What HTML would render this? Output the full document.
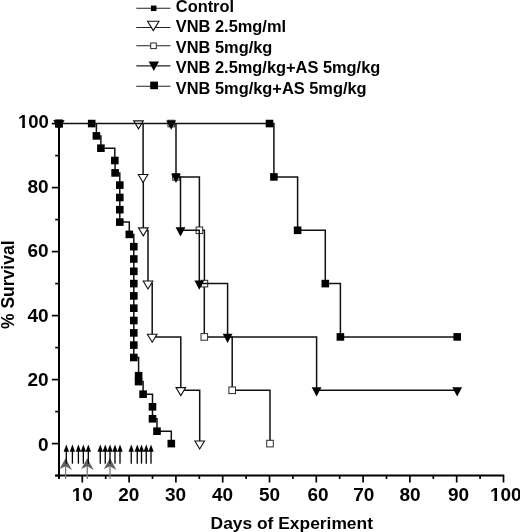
<!DOCTYPE html>
<html><head><meta charset="utf-8"><title>Survival</title>
<style>
html,body{margin:0;padding:0;background:#fff;}
body{width:520px;height:532px;overflow:hidden;}
svg{display:block;}
.t{font-family:"Liberation Sans",Arial,sans-serif;font-weight:bold;font-size:19px;fill:#000;}
.ti{font-family:"Liberation Sans",Arial,sans-serif;font-weight:bold;font-size:17.4px;fill:#000;}
.ti2{font-family:"Liberation Sans",Arial,sans-serif;font-weight:bold;font-size:17.5px;fill:#000;}
.lg{font-family:"Liberation Sans",Arial,sans-serif;font-weight:bold;font-size:16.4px;fill:#000;}
</style></head><body>
<svg width="520" height="532" viewBox="0 0 520 532">
<rect width="520" height="532" fill="#fff"/>
<line x1="59.0" y1="122.8" x2="59.0" y2="479" stroke="#000" stroke-width="2"/>
<line x1="55.2" y1="475.5" x2="504.2" y2="475.5" stroke="#000" stroke-width="1.8"/>
<line x1="55.2" y1="475.6" x2="59.0" y2="475.6" stroke="#000" stroke-width="1.7"/>
<line x1="51.8" y1="443.6" x2="59.0" y2="443.6" stroke="#000" stroke-width="1.7"/>
<line x1="55.2" y1="411.6" x2="59.0" y2="411.6" stroke="#000" stroke-width="1.7"/>
<line x1="51.8" y1="379.6" x2="59.0" y2="379.6" stroke="#000" stroke-width="1.7"/>
<line x1="55.2" y1="347.6" x2="59.0" y2="347.6" stroke="#000" stroke-width="1.7"/>
<line x1="51.8" y1="315.6" x2="59.0" y2="315.6" stroke="#000" stroke-width="1.7"/>
<line x1="55.2" y1="283.6" x2="59.0" y2="283.6" stroke="#000" stroke-width="1.7"/>
<line x1="51.8" y1="251.6" x2="59.0" y2="251.6" stroke="#000" stroke-width="1.7"/>
<line x1="55.2" y1="219.6" x2="59.0" y2="219.6" stroke="#000" stroke-width="1.7"/>
<line x1="51.8" y1="187.6" x2="59.0" y2="187.6" stroke="#000" stroke-width="1.7"/>
<line x1="55.2" y1="155.6" x2="59.0" y2="155.6" stroke="#000" stroke-width="1.7"/>
<line x1="51.8" y1="123.6" x2="59.0" y2="123.6" stroke="#000" stroke-width="1.7"/>
<line x1="58.9" y1="475.5" x2="58.9" y2="479" stroke="#000" stroke-width="1.7"/>
<line x1="82.3" y1="475.5" x2="82.3" y2="482.5" stroke="#000" stroke-width="1.7"/>
<line x1="105.7" y1="475.5" x2="105.7" y2="479" stroke="#000" stroke-width="1.7"/>
<line x1="129.1" y1="475.5" x2="129.1" y2="482.5" stroke="#000" stroke-width="1.7"/>
<line x1="152.5" y1="475.5" x2="152.5" y2="479" stroke="#000" stroke-width="1.7"/>
<line x1="175.9" y1="475.5" x2="175.9" y2="482.5" stroke="#000" stroke-width="1.7"/>
<line x1="199.3" y1="475.5" x2="199.3" y2="479" stroke="#000" stroke-width="1.7"/>
<line x1="222.7" y1="475.5" x2="222.7" y2="482.5" stroke="#000" stroke-width="1.7"/>
<line x1="246.1" y1="475.5" x2="246.1" y2="479" stroke="#000" stroke-width="1.7"/>
<line x1="269.5" y1="475.5" x2="269.5" y2="482.5" stroke="#000" stroke-width="1.7"/>
<line x1="292.9" y1="475.5" x2="292.9" y2="479" stroke="#000" stroke-width="1.7"/>
<line x1="316.3" y1="475.5" x2="316.3" y2="482.5" stroke="#000" stroke-width="1.7"/>
<line x1="339.7" y1="475.5" x2="339.7" y2="479" stroke="#000" stroke-width="1.7"/>
<line x1="363.1" y1="475.5" x2="363.1" y2="482.5" stroke="#000" stroke-width="1.7"/>
<line x1="386.5" y1="475.5" x2="386.5" y2="479" stroke="#000" stroke-width="1.7"/>
<line x1="409.9" y1="475.5" x2="409.9" y2="482.5" stroke="#000" stroke-width="1.7"/>
<line x1="433.3" y1="475.5" x2="433.3" y2="479" stroke="#000" stroke-width="1.7"/>
<line x1="456.7" y1="475.5" x2="456.7" y2="482.5" stroke="#000" stroke-width="1.7"/>
<line x1="480.1" y1="475.5" x2="480.1" y2="479" stroke="#000" stroke-width="1.7"/>
<line x1="503.5" y1="475.5" x2="503.5" y2="482.5" stroke="#000" stroke-width="1.7"/>
<text x="48.6" y="193.0" text-anchor="end" class="t">80</text>
<text x="48.6" y="257.4" text-anchor="end" class="t">60</text>
<text x="48.6" y="321.6" text-anchor="end" class="t">40</text>
<text x="48.6" y="386.2" text-anchor="end" class="t">20</text>
<text x="48.6" y="450.9" text-anchor="end" class="t">0</text>
<text x="48.8" y="128.3" text-anchor="end" class="t" style="font-size:18.5px">100</text>
<text x="82.3" y="501.1" text-anchor="middle" class="t">10</text>
<text x="128.7" y="501.1" text-anchor="middle" class="t">20</text>
<text x="175.5" y="501.1" text-anchor="middle" class="t">30</text>
<text x="222.5" y="501.1" text-anchor="middle" class="t">40</text>
<text x="269.5" y="501.1" text-anchor="middle" class="t">50</text>
<text x="318.0" y="501.1" text-anchor="middle" class="t">60</text>
<text x="363.75" y="501.1" text-anchor="middle" class="t">70</text>
<text x="410.0" y="501.1" text-anchor="middle" class="t">80</text>
<text x="458.5" y="501.1" text-anchor="middle" class="t">90</text>
<text x="505.8" y="501.1" text-anchor="middle" class="t">100</text>
<text x="210.6" y="528.6" class="ti">Days of Experiment</text>
<text transform="translate(14.3 284.75) rotate(-90)" text-anchor="middle" class="ti2">% Survival</text>
<rect x="18" y="126" width="4.15" height="3" fill="#fff"/>
<rect x="24.89" y="126" width="3.11" height="3" fill="#fff"/>
<rect x="72" y="499" width="4.07" height="3" fill="#fff"/>
<rect x="78.87" y="499" width="3.13" height="3" fill="#fff"/>
<rect x="490" y="499" width="4.28" height="3" fill="#fff"/>
<rect x="497.09" y="499" width="3.91" height="3" fill="#fff"/>
<line x1="65.6" y1="459" x2="65.6" y2="479" stroke="#7a7a7a" stroke-width="1.3"/>
<polygon points="65.6,458.3 72.0,469.9 65.6,466.3 59.49999999999999,468.9" fill="#606060"/>
<line x1="87.3" y1="459" x2="87.3" y2="479" stroke="#7a7a7a" stroke-width="1.3"/>
<polygon points="87.3,458.3 93.7,469.9 87.3,466.3 81.2,468.9" fill="#606060"/>
<line x1="110.0" y1="459" x2="110.0" y2="479" stroke="#7a7a7a" stroke-width="1.3"/>
<polygon points="110.0,458.3 116.4,469.9 110.0,466.3 103.9,468.9" fill="#606060"/>
<line x1="66.3" y1="450" x2="66.3" y2="463.7" stroke="#000" stroke-width="1.3"/>
<polygon points="66.3,444.6 69.0,451.8 63.599999999999994,451.8" fill="#000"/>
<line x1="72.4" y1="450" x2="72.4" y2="463.7" stroke="#000" stroke-width="1.3"/>
<polygon points="72.4,444.6 75.10000000000001,451.8 69.7,451.8" fill="#000"/>
<line x1="78.4" y1="450" x2="78.4" y2="463.7" stroke="#000" stroke-width="1.3"/>
<polygon points="78.4,444.6 81.10000000000001,451.8 75.7,451.8" fill="#000"/>
<line x1="83.35" y1="450" x2="83.35" y2="463.7" stroke="#000" stroke-width="1.3"/>
<polygon points="83.35,444.6 86.05,451.8 80.64999999999999,451.8" fill="#000"/>
<line x1="88.3" y1="450" x2="88.3" y2="463.7" stroke="#000" stroke-width="1.3"/>
<polygon points="88.3,444.6 91.0,451.8 85.6,451.8" fill="#000"/>
<line x1="100.25" y1="450" x2="100.25" y2="463.7" stroke="#000" stroke-width="1.3"/>
<polygon points="100.25,444.6 102.95,451.8 97.55,451.8" fill="#000"/>
<line x1="105.25" y1="450" x2="105.25" y2="463.7" stroke="#000" stroke-width="1.3"/>
<polygon points="105.25,444.6 107.95,451.8 102.55,451.8" fill="#000"/>
<line x1="110.0" y1="450" x2="110.0" y2="463.7" stroke="#000" stroke-width="1.3"/>
<polygon points="110.0,444.6 112.7,451.8 107.3,451.8" fill="#000"/>
<line x1="115.0" y1="450" x2="115.0" y2="463.7" stroke="#000" stroke-width="1.3"/>
<polygon points="115.0,444.6 117.7,451.8 112.3,451.8" fill="#000"/>
<line x1="120.0" y1="450" x2="120.0" y2="463.7" stroke="#000" stroke-width="1.3"/>
<polygon points="120.0,444.6 122.7,451.8 117.3,451.8" fill="#000"/>
<line x1="131.25" y1="450" x2="131.25" y2="463.7" stroke="#000" stroke-width="1.3"/>
<polygon points="131.25,444.6 133.95,451.8 128.55,451.8" fill="#000"/>
<line x1="137.25" y1="450" x2="137.25" y2="463.7" stroke="#000" stroke-width="1.3"/>
<polygon points="137.25,444.6 139.95,451.8 134.55,451.8" fill="#000"/>
<line x1="141.5" y1="450" x2="141.5" y2="463.7" stroke="#000" stroke-width="1.3"/>
<polygon points="141.5,444.6 144.2,451.8 138.8,451.8" fill="#000"/>
<line x1="146.25" y1="450" x2="146.25" y2="463.7" stroke="#000" stroke-width="1.3"/>
<polygon points="146.25,444.6 148.95,451.8 143.55,451.8" fill="#000"/>
<line x1="151.0" y1="450" x2="151.0" y2="463.7" stroke="#000" stroke-width="1.3"/>
<polygon points="151.0,444.6 153.7,451.8 148.3,451.8" fill="#000"/>
<path d="M96.40,123.55H96.40V135.90H100.90V148.20H114.80V160.50H115.10V172.90H119.80V185.10H119.80V197.50H119.80V209.70H119.80V222.10H129.30V234.40H133.80V246.70H133.80V259.00H133.80V271.30H133.80V283.60H133.80V295.90H133.80V308.20H133.80V320.50H133.80V332.90H133.80V345.10H133.80V357.50H138.60V375.70H138.60V381.60H143.10V394.20H152.50V406.80H152.50V418.80H157.00V431.20H171.30V443.60" fill="none" stroke="#111" stroke-width="1.5"/>
<rect x="55.10" y="119.75" width="7.6" height="7.6" fill="#000"/>
<rect x="87.90" y="119.75" width="7.6" height="7.6" fill="#000"/>
<rect x="92.60" y="132.10" width="7.6" height="7.6" fill="#000"/>
<rect x="97.10" y="144.40" width="7.6" height="7.6" fill="#000"/>
<rect x="111.00" y="156.70" width="7.6" height="7.6" fill="#000"/>
<rect x="111.30" y="169.10" width="7.6" height="7.6" fill="#000"/>
<rect x="116.00" y="181.30" width="7.6" height="7.6" fill="#000"/>
<rect x="116.00" y="193.70" width="7.6" height="7.6" fill="#000"/>
<rect x="116.00" y="205.90" width="7.6" height="7.6" fill="#000"/>
<rect x="116.00" y="218.30" width="7.6" height="7.6" fill="#000"/>
<rect x="125.50" y="230.60" width="7.6" height="7.6" fill="#000"/>
<rect x="130.00" y="242.90" width="7.6" height="7.6" fill="#000"/>
<rect x="130.00" y="255.20" width="7.6" height="7.6" fill="#000"/>
<rect x="130.00" y="267.50" width="7.6" height="7.6" fill="#000"/>
<rect x="130.00" y="279.80" width="7.6" height="7.6" fill="#000"/>
<rect x="130.00" y="292.10" width="7.6" height="7.6" fill="#000"/>
<rect x="130.00" y="304.40" width="7.6" height="7.6" fill="#000"/>
<rect x="130.00" y="316.70" width="7.6" height="7.6" fill="#000"/>
<rect x="130.00" y="329.10" width="7.6" height="7.6" fill="#000"/>
<rect x="130.00" y="341.30" width="7.6" height="7.6" fill="#000"/>
<rect x="130.00" y="353.70" width="7.6" height="7.6" fill="#000"/>
<rect x="134.80" y="371.90" width="7.6" height="7.6" fill="#000"/>
<rect x="134.80" y="377.80" width="7.6" height="7.6" fill="#000"/>
<rect x="139.30" y="390.40" width="7.6" height="7.6" fill="#000"/>
<rect x="148.70" y="403.00" width="7.6" height="7.6" fill="#000"/>
<rect x="148.70" y="415.00" width="7.6" height="7.6" fill="#000"/>
<rect x="153.20" y="427.40" width="7.6" height="7.6" fill="#000"/>
<rect x="167.50" y="439.80" width="7.6" height="7.6" fill="#000"/>
<path d="M143.10,123.55H143.10V177.10H143.30V230.50H148.00V283.60H152.20V336.90H180.80V390.30H199.70V443.60" fill="none" stroke="#111" stroke-width="1.5"/>
<polygon points="54.10,120.88 63.70,120.88 58.90,128.88" fill="#fff" stroke="#111" stroke-width="1.1" stroke-linejoin="miter"/>
<polygon points="133.70,120.88 143.30,120.88 138.50,128.88" fill="#fff" stroke="#111" stroke-width="1.1" stroke-linejoin="miter"/>
<polygon points="138.30,174.43 147.90,174.43 143.10,182.43" fill="#fff" stroke="#111" stroke-width="1.1" stroke-linejoin="miter"/>
<polygon points="138.50,227.83 148.10,227.83 143.30,235.83" fill="#fff" stroke="#111" stroke-width="1.1" stroke-linejoin="miter"/>
<polygon points="143.20,280.93 152.80,280.93 148.00,288.93" fill="#fff" stroke="#111" stroke-width="1.1" stroke-linejoin="miter"/>
<polygon points="147.40,334.23 157.00,334.23 152.20,342.23" fill="#fff" stroke="#111" stroke-width="1.1" stroke-linejoin="miter"/>
<polygon points="176.00,387.63 185.60,387.63 180.80,395.63" fill="#fff" stroke="#111" stroke-width="1.1" stroke-linejoin="miter"/>
<polygon points="194.90,440.93 204.50,440.93 199.70,448.93" fill="#fff" stroke="#111" stroke-width="1.1" stroke-linejoin="miter"/>
<path d="M176.00,176.90H199.40V230.30H204.40V283.60H204.30V336.90H232.20V390.30H270.00V443.60" fill="none" stroke="#111" stroke-width="1.5"/>
<rect x="55.60" y="120.25" width="6.6" height="6.6" fill="#fff" stroke="#2a2a2a" stroke-width="1"/>
<rect x="168.00" y="120.25" width="6.6" height="6.6" fill="#fff" stroke="#2a2a2a" stroke-width="1"/>
<rect x="172.70" y="173.60" width="6.6" height="6.6" fill="#fff" stroke="#2a2a2a" stroke-width="1"/>
<rect x="196.10" y="227.00" width="6.6" height="6.6" fill="#fff" stroke="#2a2a2a" stroke-width="1"/>
<rect x="201.10" y="280.30" width="6.6" height="6.6" fill="#fff" stroke="#2a2a2a" stroke-width="1"/>
<rect x="201.00" y="333.60" width="6.6" height="6.6" fill="#fff" stroke="#2a2a2a" stroke-width="1"/>
<rect x="228.90" y="387.00" width="6.6" height="6.6" fill="#fff" stroke="#2a2a2a" stroke-width="1"/>
<rect x="266.70" y="440.30" width="6.6" height="6.6" fill="#fff" stroke="#2a2a2a" stroke-width="1"/>
<path d="M176.00,123.55H176.00V176.90H180.50V230.30H199.30V283.60H227.60V336.90H316.60V390.30H457.20V390.30" fill="none" stroke="#111" stroke-width="1.5"/>
<polygon points="54.00,120.48 63.80,120.48 58.90,129.68" fill="#000"/>
<polygon points="166.30,120.48 176.10,120.48 171.20,129.68" fill="#000"/>
<polygon points="171.10,173.83 180.90,173.83 176.00,183.03" fill="#000"/>
<polygon points="175.60,227.23 185.40,227.23 180.50,236.43" fill="#000"/>
<polygon points="194.40,280.53 204.20,280.53 199.30,289.73" fill="#000"/>
<polygon points="222.70,333.83 232.50,333.83 227.60,343.03" fill="#000"/>
<polygon points="311.70,387.23 321.50,387.23 316.60,396.43" fill="#000"/>
<polygon points="452.30,387.23 462.10,387.23 457.20,396.43" fill="#000"/>
<path d="M58.90,123.55H269.50V123.55H273.90V176.90H297.60V230.30H325.30V283.60H340.40V336.90H457.20V336.90" fill="none" stroke="#111" stroke-width="1.5"/>
<rect x="55.10" y="119.75" width="7.6" height="7.6" fill="#000"/>
<rect x="265.70" y="119.75" width="7.6" height="7.6" fill="#000"/>
<rect x="270.10" y="173.10" width="7.6" height="7.6" fill="#000"/>
<rect x="293.80" y="226.50" width="7.6" height="7.6" fill="#000"/>
<rect x="321.50" y="279.80" width="7.6" height="7.6" fill="#000"/>
<rect x="336.60" y="333.10" width="7.6" height="7.6" fill="#000"/>
<rect x="453.40" y="333.10" width="7.6" height="7.6" fill="#000"/>
<line x1="136.3" y1="8.2" x2="170.4" y2="8.2" stroke="#222" stroke-width="1.1"/>
<line x1="136.3" y1="27.5" x2="170.4" y2="27.5" stroke="#222" stroke-width="1.1"/>
<line x1="136.3" y1="45.8" x2="170.4" y2="45.8" stroke="#222" stroke-width="1.1"/>
<line x1="136.3" y1="65.9" x2="170.4" y2="65.9" stroke="#222" stroke-width="1.1"/>
<line x1="136.3" y1="86.3" x2="170.4" y2="86.3" stroke="#222" stroke-width="1.1"/>
<rect x="150.95" y="5.55" width="5.5" height="5.5" fill="#000"/>
<polygon points="147.6,21.2 159.0,21.2 153.3,30.6" fill="#fff" stroke="#111" stroke-width="1.1"/>
<rect x="150.70" y="43.00" width="5.6" height="5.6" fill="#fff" stroke="#2a2a2a" stroke-width="1"/>
<polygon points="148.7,61.6 159.0,61.6 153.8,70.9" fill="#000"/>
<rect x="150.2" y="81.6" width="7.8" height="7.6" fill="#000"/>
<text x="175.8" y="11.6" class="lg">Control</text>
<text x="175.8" y="32.0" class="lg">VNB 2.5mg/ml</text>
<text x="175.8" y="52.7" class="lg">VNB 5mg/kg</text>
<text x="175.8" y="72.8" class="lg">VNB 2.5mg/kg+AS 5mg/kg</text>
<text x="175.8" y="93.5" class="lg">VNB 5mg/kg+AS 5mg/kg</text>
</svg>
</body></html>
